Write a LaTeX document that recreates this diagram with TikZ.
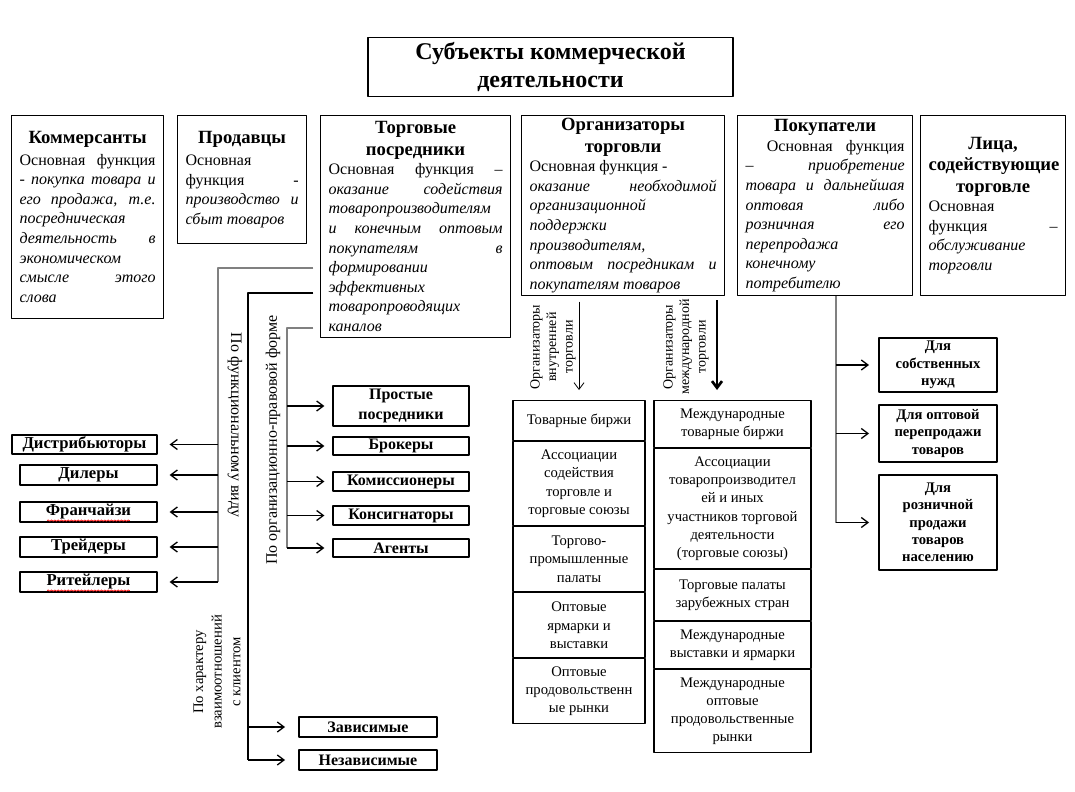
\documentclass[tikz,border=0pt]{standalone}
\usepackage{fontspec}
\setmainfont{Liberation Serif}
\usetikzlibrary{positioning,arrows.meta,decorations.pathmorphing}
\setlength{\parindent}{0pt}
\newcommand{\boxhead}[1]{{\centering\fontsize{14}{16}\selectfont\bfseries #1\par}}
\begin{document}
\begin{tikzpicture}[x=.75pt,y=-.75pt,>={Straight Barb[length=5pt,width=7.5pt]},line join=round,
	box/.style={draw,line width=.9pt,anchor=north west,inner xsep=6pt,inner ysep=0pt,align=justify,font=\fontsize{12}{14.7}\selectfont},
	cell/.style={draw,line width=.8pt,align=center,inner sep=0pt,font=\fontsize{11}{13.7}\selectfont},
	kind/.style={draw,line width=.9pt,align=center,inner sep=0pt,font=\fontsize{12}{14.5}\selectfont\bfseries},
	seller/.style={kind,font=\fontsize{12.5}{14.5}\selectfont\bfseries},
	buy/.style={kind,font=\fontsize{11}{13}\selectfont\bfseries,minimum width=88.5pt},
	lab/.style={align=center,inner sep=0pt,font=\fontsize{12}{14}\selectfont},
	conn/.style={draw=gray,line width=1.1pt},
	br/.style={->,line width=1pt},
	squig/.style={draw=red,line width=.5pt,decorate,decoration={snake,amplitude=.5pt,segment length=2.5pt}}]
	\useasboundingbox (0,0) rectangle (1075,792);
	\node[draw,line width=.9pt,minimum width=273.75pt,minimum height=43.5pt,align=center,font=\fontsize{18}{21}\selectfont\bfseries] (subj) at (550.5,67) {Субъекты коммерческой\\деятельности};
	\node[box,text width=102pt,minimum height=152pt] (kom) at (11,115) {\boxhead{Коммерсанты}\vspace{1.5pt}Основная функция\linebreak
		- \textit{покупка товара и}\linebreak
		\textit{его продажа, т.е.}\linebreak
		\textit{посредническая}\\
		\textit{деятельность в}\linebreak
		\textit{экономическом}\\
		\textit{смысле этого}\linebreak
		\textit{слова}};
	\node[box,text width=84.75pt,minimum height=96pt] (prod) at (177,115) {\boxhead{Продавцы}\vspace{1.5pt}Основная\\
		функция -\linebreak
		\textit{производство и}\linebreak
		\textit{сбыт товаров}};
	\node[box,text width=130.5pt,minimum height=166.5pt] (torg) at (320,115) {\boxhead{Торговые\\посредники}Основная функция –\linebreak
		\textit{оказание содействия}\linebreak
		\textit{товаропроизводителям}\\
		\textit{и конечным оптовым}\linebreak
		\textit{покупателям в}\linebreak
		\textit{формировании}\\
		\textit{эффективных}\\
		\textit{товаропроводящих}\\
		\textit{каналов}};
	\node[box,text width=140.25pt,minimum height=135pt] (org) at (521,115) {\boxhead{Организаторы\\торговли}Основная функция -\\
		\textit{оказание необходимой}\linebreak
		\textit{организационной}\\
		\textit{поддержки}\\
		\textit{производителям,}\\
		\textit{оптовым посредникам и}\linebreak
		\textit{покупателям товаров}};
	\node[box,text width=119.25pt,minimum height=135pt] (pok) at (737,115) {\boxhead{Покупатели}\hspace*{16pt}Основная функция\linebreak
		– \textit{приобретение}\linebreak
		\textit{товара и дальнейшая}\linebreak
		\textit{оптовая либо}\linebreak
		\textit{розничная его}\linebreak
		\textit{перепродажа}\\
		\textit{конечному}\\
		\textit{потребителю}};
	\node[box,text width=96.75pt,minimum height=135pt] (lic) at (920,115) {\boxhead{Лица,\\содействующие\\торговле}Основная\\
		функция –\linebreak
		\textit{обслуживание}\\
		\textit{торговли}};
	\node[seller,minimum width=108.75pt,minimum height=14.25pt] (dist) at (84.5,444.5) {Дистрибьюторы};
	\node[seller,minimum width=102.75pt,minimum height=15pt] (dil) at (88.5,475) {Дилеры};
	\node[seller,minimum width=102.75pt,minimum height=15pt] (fran) at (88.5,512) {Франчайзи};
	\node[seller,minimum width=102.75pt,minimum height=15pt] (trei) at (88.5,547) {Трейдеры};
	\node[seller,minimum width=102.75pt,minimum height=15pt] (ret) at (88.5,582) {Ритейлеры};
	\node[kind,minimum width=102pt,minimum height=30pt] (prost) at (401,406) {Простые\\посредники};
	\node[kind,minimum width=102pt,minimum height=13.5pt] (brok) at (401,446) {Брокеры};
	\node[kind,minimum width=102pt,minimum height=14.25pt] (komis) at (401,481.5) {Комиссионеры};
	\node[kind,minimum width=102pt,minimum height=14.25pt] (kons) at (401,515.5) {Консигнаторы};
	\node[kind,minimum width=102pt,minimum height=13.5pt] (ag) at (401,548) {Агенты};
	\node[kind,minimum width=103.5pt,minimum height=15pt] (zav) at (368,727) {Зависимые};
	\node[kind,minimum width=103.5pt,minimum height=15pt] (nez) at (368,760) {Независимые};
	\node[buy,minimum height=40.5pt] (sobs) at (938,365) {Для\\собственных\\нужд};
	\node[buy,minimum height=42.75pt] (opt) at (938,433.5) {Для оптовой\\перепродажи\\товаров};
	\node[buy,minimum height=71.25pt] (roz) at (938,522.5) {Для\\розничной\\продажи\\товаров\\населению};
	\node[cell,minimum width=99pt,minimum height=30pt,anchor=north] (L1) at (579,400) {Товарные биржи};
	\node[cell,minimum width=99pt,minimum height=63pt,below=0pt of L1] (L2) {Ассоциации\\содействия\\торговле и\\торговые союзы};
	\node[cell,minimum width=99pt,minimum height=48.75pt,below=0pt of L2] (L3) {Торгово-\\промышленные\\палаты};
	\node[cell,minimum width=99pt,minimum height=48.75pt,below=0pt of L3] (L4) {Оптовые\\ярмарки и\\выставки};
	\node[cell,minimum width=99pt,minimum height=48.75pt,below=0pt of L4] (L5) {Оптовые\\продовольственн\\ые рынки};
	\node[cell,minimum width=117.75pt,minimum height=35.25pt,anchor=north] (R1) at (732.5,400) {Международные\\товарные биржи};
	\node[cell,minimum width=117.75pt,minimum height=90pt,below=0pt of R1] (R2) {Ассоциации\\товаропроизводител\\ей и иных\\участников торговой\\деятельности\\(торговые союзы)};
	\node[cell,minimum width=117.75pt,minimum height=38.25pt,below=0pt of R2] (R3) {Торговые палаты\\зарубежных стран};
	\node[cell,minimum width=117.75pt,minimum height=35.25pt,below=0pt of R3] (R4) {Международные\\выставки и ярмарки};
	\node[cell,minimum width=117.75pt,minimum height=62.25pt,below=0pt of R4] (R5) {Международные\\оптовые\\продовольственные\\рынки};
	\node[lab,rotate=-90] (fv) at (235,425) {По функциональному виду};
	\node[lab,rotate=90] (opf) at (273,440) {По организационно-правовой форме};
	\node[lab,rotate=90,font=\fontsize{11}{13.9}\selectfont] (hv) at (217,672) {По характеру\\взаимоотношений\\с клиентом};
	\node[lab,rotate=90,font=\fontsize{10.5}{12.4}\selectfont] (vn) at (553,347) {Организаторы\\внутренней\\торговли};
	\node[lab,rotate=90,font=\fontsize{10.5}{12.4}\selectfont] (md) at (686,347) {Организаторы\\международной\\торговли};
	\coordinate (F) at (218,268);
	\coordinate (H) at (248,293);
	\coordinate (O) at (287,328);
	\coordinate (P) at (836,295);
	\coordinate (M) at (717,300);
	\draw[conn,shorten <=5pt] (F -| torg.west) -- (F) -- (F |- ret);
	\draw[line width=.8pt,shorten <=5pt] (H -| torg.west) -- (H) -- (H |- nez);
	\draw[conn,shorten <=5pt] (O -| torg.west) -- (O) -- (O |- ag);
	\draw[conn] (pok.south -| P) -- (P |- roz);
	\foreach \n in {dist,dil,fran,trei,ret}
		\draw[br,shorten >=9pt] (F |- \n) -- (\n.east);
	\foreach \n in {prost,brok,komis,kons,ag}
		\draw[br,shorten >=6pt] (O |- \n) -- (\n.west);
	\foreach \n in {zav,nez}
		\draw[br,shorten >=10pt] (H |- \n) -- (\n.west);
	\foreach \n in {sobs,opt,roz}
		\draw[br,shorten >=7pt] (P |- \n) -- (\n.west);
	\draw[->,line width=.6pt,shorten <=4pt,shorten >=7.5pt] (org.south -| L1) -- (L1.north);
	\draw[->,line width=2pt,shorten >=7.5pt] (M) -- (M |- R1.north);
	\foreach \n in {fran,ret}
		\draw[squig] ([xshift=-31pt,yshift=1.5pt]\n.south) -- ([xshift=31pt,yshift=1.5pt]\n.south);
\end{tikzpicture}
\end{document}
